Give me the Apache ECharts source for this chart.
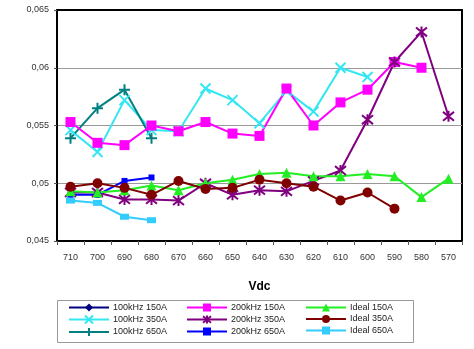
<!DOCTYPE html>
<html><head><meta charset="utf-8">
<script src="https://cdn.jsdelivr.net/npm/echarts@6/dist/echarts.min.js"></script>
<style>html,body{margin:0;padding:0;background:#fff}#c{width:474px;height:349px}</style>
</head><body><div id="c"></div>
<script>
var categories = ['710','700','690','680','670','660','650','640','630','620','610','600','590','580','570'];
var k100_150 = [];
var k100_350 = [0.0546,0.0527,0.0572,0.0546,0.0545,0.0582,0.0572,0.0552,0.0580,0.0562,0.0600,0.0592,null,null,null];
var k100_650 = [0.0539,0.0565,0.0581,0.0539,null,null,null,null,null,null,null,null,null,null,null];
var k200_150 = [0.0553,0.0535,0.0533,0.0550,0.0545,0.0553,0.0543,0.0541,0.0582,0.0550,0.0570,0.0581,0.0605,0.0600,null];
var k200_350 = [0.0492,0.0492,0.0486,0.0486,0.0485,0.0500,0.0490,0.0494,0.0493,0.0502,0.0511,0.0555,0.0605,0.0631,0.0558];
var k200_650 = [0.0490,0.0490,0.0502,0.0505,null,null,null,null,null,null,null,null,null,null,null];
var ideal_150 = [0.0493,0.0492,0.0494,0.0498,0.0494,0.0500,0.0503,0.0508,0.0509,0.0506,0.0506,0.0508,0.0506,0.0488,0.0504];
var ideal_350 = [0.0497,0.0500,0.0496,0.0490,0.0502,0.0495,0.0496,0.0503,0.0500,0.0497,0.0485,0.0492,0.0478,null,null];
var ideal_650 = [0.0485,0.0483,0.0471,0.0468,null,null,null,null,null,null,null,null,null,null,null];
var yTicks = {min:0.045, max:0.065, interval:0.005};

var FONT = 'Liberation Sans';
var XPATH = 'path://M0,0L10,10M10,0L0,10';
var ASTER = 'path://M1,1L9,9M9,1L1,9M5,0L5,10';
var PLUS = 'path://M5,0L5,10M0,5L10,5';

function mk(name, data, color, symbol, size, stroke) {
  var s = {
    name: name, type: 'line', data: data, symbol: symbol, symbolSize: size,
    showAllSymbol: true, connectNulls: false,
    lineStyle: {color: color, width: 2},
    itemStyle: {color: color},
    emphasis: {disabled: true}, animation: false
  };
  if (stroke) s.itemStyle = {color: color, borderColor: color, borderWidth: 2};
  return s;
}

var series = [
  mk('100kHz 150A', k100_150, '#000080', 'diamond', 9),
  mk('100kHz 350A', k100_350, '#33E6F2', XPATH, 10, true),
  mk('100kHz 650A', k100_650, '#008080', PLUS, 11, true),
  mk('200kHz 150A', k200_150, '#FF00FF', 'rect', 10),
  mk('200kHz 350A', k200_350, '#800080', ASTER, 11, true),
  mk('200kHz 650A', k200_650, '#0000FF', 'rect', 6),
  mk('Ideal 150A', ideal_150, '#22EE22', 'triangle', 10),
  mk('Ideal 350A', ideal_350, '#800000', 'circle', 10),
  mk('Ideal 650A', ideal_650, '#33CCFF', 'rect', [9,6])
];

function leg(left, names) {
  return {
    orient: 'vertical', left: left, top: 303, itemWidth: 40, itemHeight: 10,
    itemGap: 2.5, selectedMode: false, data: names,
    textStyle: {fontFamily: FONT, fontSize: 9, color: '#222', padding: [0,0,0,-1]},
    padding: 0
  };
}

var chart = echarts.init(document.getElementById('c'), null, {renderer: 'canvas'});
chart.setOption({
  animation: false,
  backgroundColor: '#fff',
  grid: {left: 57, right: 12, top: 10, bottom: 108, show: true, borderColor: '#000', borderWidth: 2, backgroundColor: 'transparent'},
  xAxis: {
    type: 'category', data: categories, boundaryGap: true,
    name: 'Vdc', nameLocation: 'middle', nameGap: 40,
    nameTextStyle: {fontFamily: FONT, fontSize: 12, fontWeight: 'bold', color: '#000'},
    axisLine: {lineStyle: {color: '#000', width: 2}},
    axisTick: {show: true, alignWithLabel: false, length: 4, lineStyle: {color: '#555'}},
    axisLabel: {fontFamily: FONT, fontSize: 9, color: '#333', margin: 12},
    splitLine: {show: false}
  },
  yAxis: {
    type: 'value', min: yTicks.min, max: yTicks.max, interval: yTicks.interval,
    axisLine: {show: true, lineStyle: {color: '#000', width: 2}},
    axisTick: {show: true, length: 3, lineStyle: {color: '#555'}},
    axisLabel: {fontFamily: FONT, fontSize: 9, color: '#333', margin: 8,
      formatter: function(v){ return String(+v.toFixed(3)).replace('.', ','); }},
    splitLine: {show: true, showMinLine: false, showMaxLine: false, lineStyle: {color: '#999', width: 1}}
  },
  legend: [
    leg(68, ['100kHz 150A','100kHz 350A','100kHz 650A']),
    leg(186, ['200kHz 150A','200kHz 350A','200kHz 650A']),
    leg(305, ['Ideal 150A','Ideal 350A','Ideal 650A'])
  ],
  graphic: [{type: 'rect', shape: {x: 57.5, y: 300.5, width: 356, height: 42},
    style: {fill: 'none', stroke: '#999', lineWidth: 1}, silent: true}],
  series: series
});
</script></body></html>
